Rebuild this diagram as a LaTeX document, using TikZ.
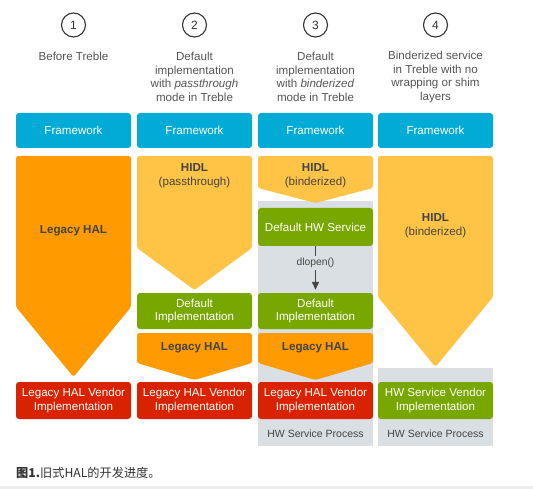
\documentclass[tikz,border=0pt]{standalone}
\usepackage{fontspec}
\setmainfont{Liberation Sans}
\newfontfamily\cjk{Noto Sans CJK SC}
\usetikzlibrary{arrows.meta}
\definecolor{fwblue}{HTML}{02AAD6}
\definecolor{legorange}{HTML}{FF9A00}
\definecolor{hidlyellow}{HTML}{FFC445}
\definecolor{implgreen}{HTML}{78A700}
\definecolor{vendred}{HTML}{D92200}
\definecolor{procgray}{HTML}{DADFE3}
\definecolor{txtdark}{HTML}{444444}
\definecolor{titlegray}{HTML}{555555}
\definecolor{numcol}{HTML}{333333}
\begin{document}
\begin{tikzpicture}[x=1pt,y=-1pt,
  lbl/.style={font=\fontsize{11.6}{13.7}\selectfont, align=center, inner sep=0pt},
  titletxt/.style={lbl, text=titlegray},
  dtxt/.style={lbl, text=txtdark},
  btxt/.style={dtxt, font=\fontsize{11.6}{13.7}\selectfont\bfseries},
  sbox/.style={rounded corners=3pt, minimum width=115pt, inner sep=0pt, lbl, text=white},
  fwbox/.style={sbox, fill=fwblue, minimum height=35pt},
  greenbox/.style={sbox, fill=implgreen},
  redbox/.style={sbox, fill=vendred, minimum height=37pt},
  num/.style={circle, draw=numcol, line width=1.1pt, minimum size=24pt, inner sep=0pt, font=\fontsize{12}{14}\selectfont, text=numcol},
  proc/.style={lbl, font=\fontsize{10.5}{12}\selectfont, text=txtdark},
  shp/.style={rounded corners=2.5pt},
]
\useasboundingbox[fill=white] (0,0) rectangle (533,489);
\fill[black!7] (0,486) rectangle (533,489);

% numbers
\node[num] (n1) at (73.5,25) {1};
\node[num] (n2) at (194.5,25) {2};
\node[num] (n3) at (315.5,25) {3};
\node[num] (n4) at (435.5,25) {4};

% titles
\node[titletxt] (t1) at (73.5,56) {Before Treble};
\node[titletxt] (t2) at (194.5,77) {Default\\implementation\\with \textit{passthrough}\\mode in Treble};
\node[titletxt] (t3) at (315.5,77) {Default\\implementation\\with \textit{binderized}\\mode in Treble};
\node[titletxt] (t4) at (435.5,77) {Binderized service\\in Treble with no\\wrapping or shim\\layers};

% framework
\node[fwbox] (fw1) at (73.5,130.5) {Framework};
\node[fwbox] (fw2) at (194.5,130.5) {Framework};
\node[fwbox] (fw3) at (315.5,130.5) {Framework};
\node[fwbox] (fw4) at (435.5,130.5) {Framework};

% process backgrounds
\fill[procgray] (258,201) rectangle (373,446);
\fill[procgray] (378,368) rectangle (493,446);

% column 1
\fill[legorange, shp] (16,307) -- (16,156) -- (131,156) -- (131,307) -- (73.5,377) -- cycle;
\node[btxt] (lh1) at (73.5,231) {Legacy HAL};
\node[redbox] (v1) at (73.5,400.5) {Legacy HAL Vendor\\Implementation};

% column 2
\fill[hidlyellow, shp] (137,248) -- (137,156) -- (252,156) -- (252,248) -- (194.5,290) -- cycle;
\node[dtxt] (h2) at (194.5,175.5) {\textbf{HIDL}\\(passthrough)};
\node[greenbox, minimum height=36pt] (di2) at (194.5,311) {Default\\Implementation};
\fill[legorange, shp] (137,363) -- (137,333) -- (252,333) -- (252,363) -- (194.5,380) -- cycle;
\node[btxt] (lh2) at (194.5,348) {Legacy HAL};
\node[redbox] (v2) at (194.5,400.5) {Legacy HAL Vendor\\Implementation};

% column 3
\fill[hidlyellow, shp] (258,188) -- (258,156) -- (373,156) -- (373,188) -- (315.5,203) -- cycle;
\node[dtxt] (h3) at (315.5,175.5) {\textbf{HIDL}\\(binderized)};
\node[greenbox, minimum height=38pt] (hws) at (315.5,227) {Default HW Service};
\node[greenbox, minimum height=36pt] (di3) at (315.5,311) {Default\\Implementation};
\draw[line width=1.3pt, txtdark, -{Triangle[width=7pt,length=8pt]}, shorten >=3pt]
  (hws) -- node[pos=0.36, fill=procgray, inner sep=2.5pt, font=\fontsize{10.3}{12}\selectfont, text=txtdark] (dl) {dlopen()} (di3);
\fill[legorange, shp] (258,363) -- (258,333) -- (373,333) -- (373,363) -- (315.5,380) -- cycle;
\node[btxt] (lh3) at (315.5,348) {Legacy HAL};
\node[redbox] (v3) at (315.5,400.5) {Legacy HAL Vendor\\Implementation};
\node[proc] (p3) at (315.5,434) {HW Service Process};

% column 4
\fill[hidlyellow, shp] (378,297) -- (378,156) -- (493,156) -- (493,297) -- (435.5,367) -- cycle;
\node[dtxt] (h4) at (435.5,226) {\textbf{HIDL}\\(binderized)};
\node[greenbox, minimum height=37pt] (v4) at (435.5,400.5) {HW Service Vendor\\Implementation};
\node[proc] (p4) at (435.5,434) {HW Service Process};

% caption
\node[anchor=west, inner sep=0pt, text=numcol, font=\fontsize{12.2}{14}\selectfont] (cap) at (16,473) {\cjk\textbf{图1.}旧式HAL的开发进度。};
\end{tikzpicture}
\end{document}
